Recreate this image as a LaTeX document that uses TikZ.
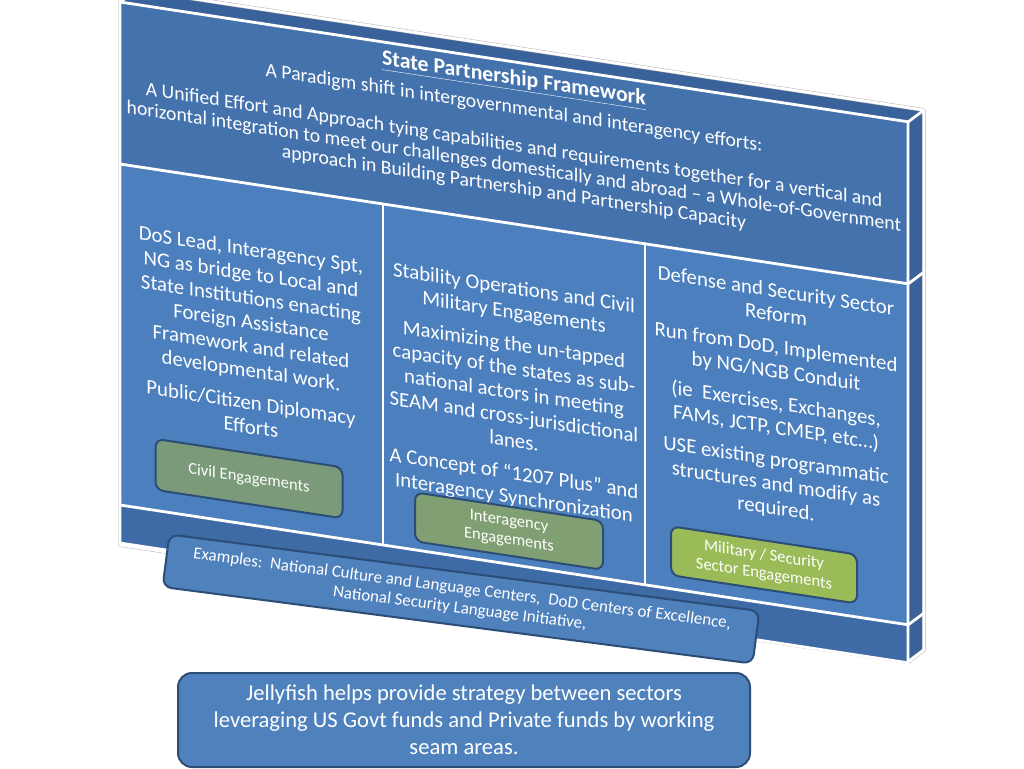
\documentclass[tikz,border=0pt]{standalone}
\usepackage{fontspec}
\setmainfont{Carlito}
\definecolor{hdrblue}{RGB}{68,114,172}
\definecolor{colblue}{RGB}{75,127,190}
\definecolor{bandblue}{RGB}{62,106,166}
\definecolor{sideblue}{RGB}{58,98,154}
\definecolor{boxblue}{RGB}{79,129,189}
\definecolor{boxborder}{RGB}{44,77,117}
\definecolor{civgreen}{RGB}{122,154,122}
\definecolor{intgreen}{RGB}{128,160,115}
\definecolor{milgreen}{RGB}{155,187,89}
\begin{document}
\begin{tikzpicture}[x=1pt,y=-1pt,
  facetext/.style={text=white, align=center, inner sep=0pt, transform shape},
  coltext/.style={facetext, anchor=north, font=\fontsize{20.8}{24.2}\selectfont},
  greenbox/.style={draw=boxborder, line width=2pt, rounded corners=8pt, align=center,
    text=white, transform shape, font=\fontsize{16.5}{19}\selectfont, inner sep=2pt},
  bluebox/.style={draw=boxborder, line width=2pt, fill=boxblue, align=center, text=white},
  edge/.style={white, line width=2.8pt, line join=round}]
\useasboundingbox (0,0) rectangle (1024,768);

% top and side faces
\fill[sideblue] (120,2) -- (136,-10) -- (924,110) -- (908,122) -- cycle;
\fill[sideblue] (908,122) -- (924,110) -- (924,650) -- (908,662) -- cycle;
\draw[gray!55, line width=3.8pt, line join=round] (120,545) -- (120,2) -- (136,-10) -- (924,110) -- (924,650) -- (908,662) -- cycle;
\draw[edge] (908,122) -- (924,110);
\draw[edge] (908,284) -- (924,272);
\draw[edge] (908,625) -- (924,613);
\draw[edge] (120,545) -- (120,2) -- (136,-10) -- (924,110) -- (924,650) -- (908,662) -- cycle;

% front face
\begin{scope}[shift={(120,2)}, yslant=-0.152]
  \fill[hdrblue] (0,0) rectangle (788,162);
  \fill[colblue] (0,162) rectangle (788,503);
  \fill[bandblue] (0,503) rectangle (788,541);
  \draw[edge] (0,0) rectangle (788,541);
  \draw[edge] (0,162) -- (788,162);
  \draw[edge] (0,503) -- (788,503);
  \draw[edge] (263,162) -- (263,503);
  \draw[edge] (525,162) -- (525,503);

  \node[facetext, font=\fontsize{21.8}{25}\selectfont\bfseries] (title) at (394,18)
    {\underline{State Partnership Framework}};
  \node[facetext, anchor=north, font=\fontsize{19.7}{22.5}\selectfont] (header) at (394,38)
    {A Paradigm shift in intergovernmental and interagency efforts:\\[15pt]
     A Unified Effort and Approach tying capabilities and requirements together for a vertical and\\[-1.5pt]
     horizontal integration to meet our challenges domestically and abroad – a Whole-of-Government\\[-1.5pt]
     approach in Building Partnership and Partnership Capacity};

  \node[coltext] (col1) at (131,220)
    {DoS Lead, Interagency Spt,\\ NG as bridge to Local and\\ State Institutions enacting\\
     Foreign Assistance\\ Framework and related\\ developmental work.\\[8pt]
     Public/Citizen Diplomacy\\ Efforts};
  \node[coltext] (col2) at (394,218)
    {Stability Operations and Civil\\ Military Engagements\\[8pt]
     Maximizing the un-tapped\\ capacity of the states as sub-\\ national actors in meeting\\
     SEAM and cross-jurisdictional\\ lanes.\\[8pt]
     A Concept of “1207 Plus” and\\ Interagency Synchronization};
  \node[coltext] (col3) at (656,181)
    {Defense and Security Sector\\ Reform\\[8pt]
     Run from DoD, Implemented\\ by NG/NGB Conduit\\[8pt]
     (ie~~Exercises, Exchanges,\\ FAMs, JCTP, CMEP, etc…)\\[8pt]
     USE existing programmatic\\ structures and modify as\\ required.};

  \node[greenbox, fill=civgreen, minimum width=187pt, minimum height=51pt] (civil) at (129,457)
    {Civil Engagements};
  \node[greenbox, fill=intgreen, minimum width=188pt, minimum height=49pt] (inter) at (389,470)
    {Interagency\\ Engagements};
  \node[greenbox, fill=milgreen, minimum width=186pt, minimum height=49pt] (mil) at (644,465)
    {Military / Security\\ Sector Engagements};
\end{scope}

\node[bluebox, rotate=-7.4, rounded corners=9pt, minimum width=595pt, minimum height=53pt,
  font=\fontsize{17}{19.5}\selectfont, inner sep=2pt] (examples) at (461,599)
  {Examples:~~National Culture and Language Centers,~~DoD Centers of Excellence,\\
   National Security Language Initiative,};

\node[bluebox, rounded corners=14pt, minimum width=572pt, minimum height=94pt,
  font=\fontsize{22.6}{27}\selectfont, inner sep=2pt] (jelly) at (464,720)
  {Jellyfish helps provide strategy between sectors\\
   leveraging US Govt funds and Private funds by working\\
   seam areas.};
\end{tikzpicture}
\end{document}
